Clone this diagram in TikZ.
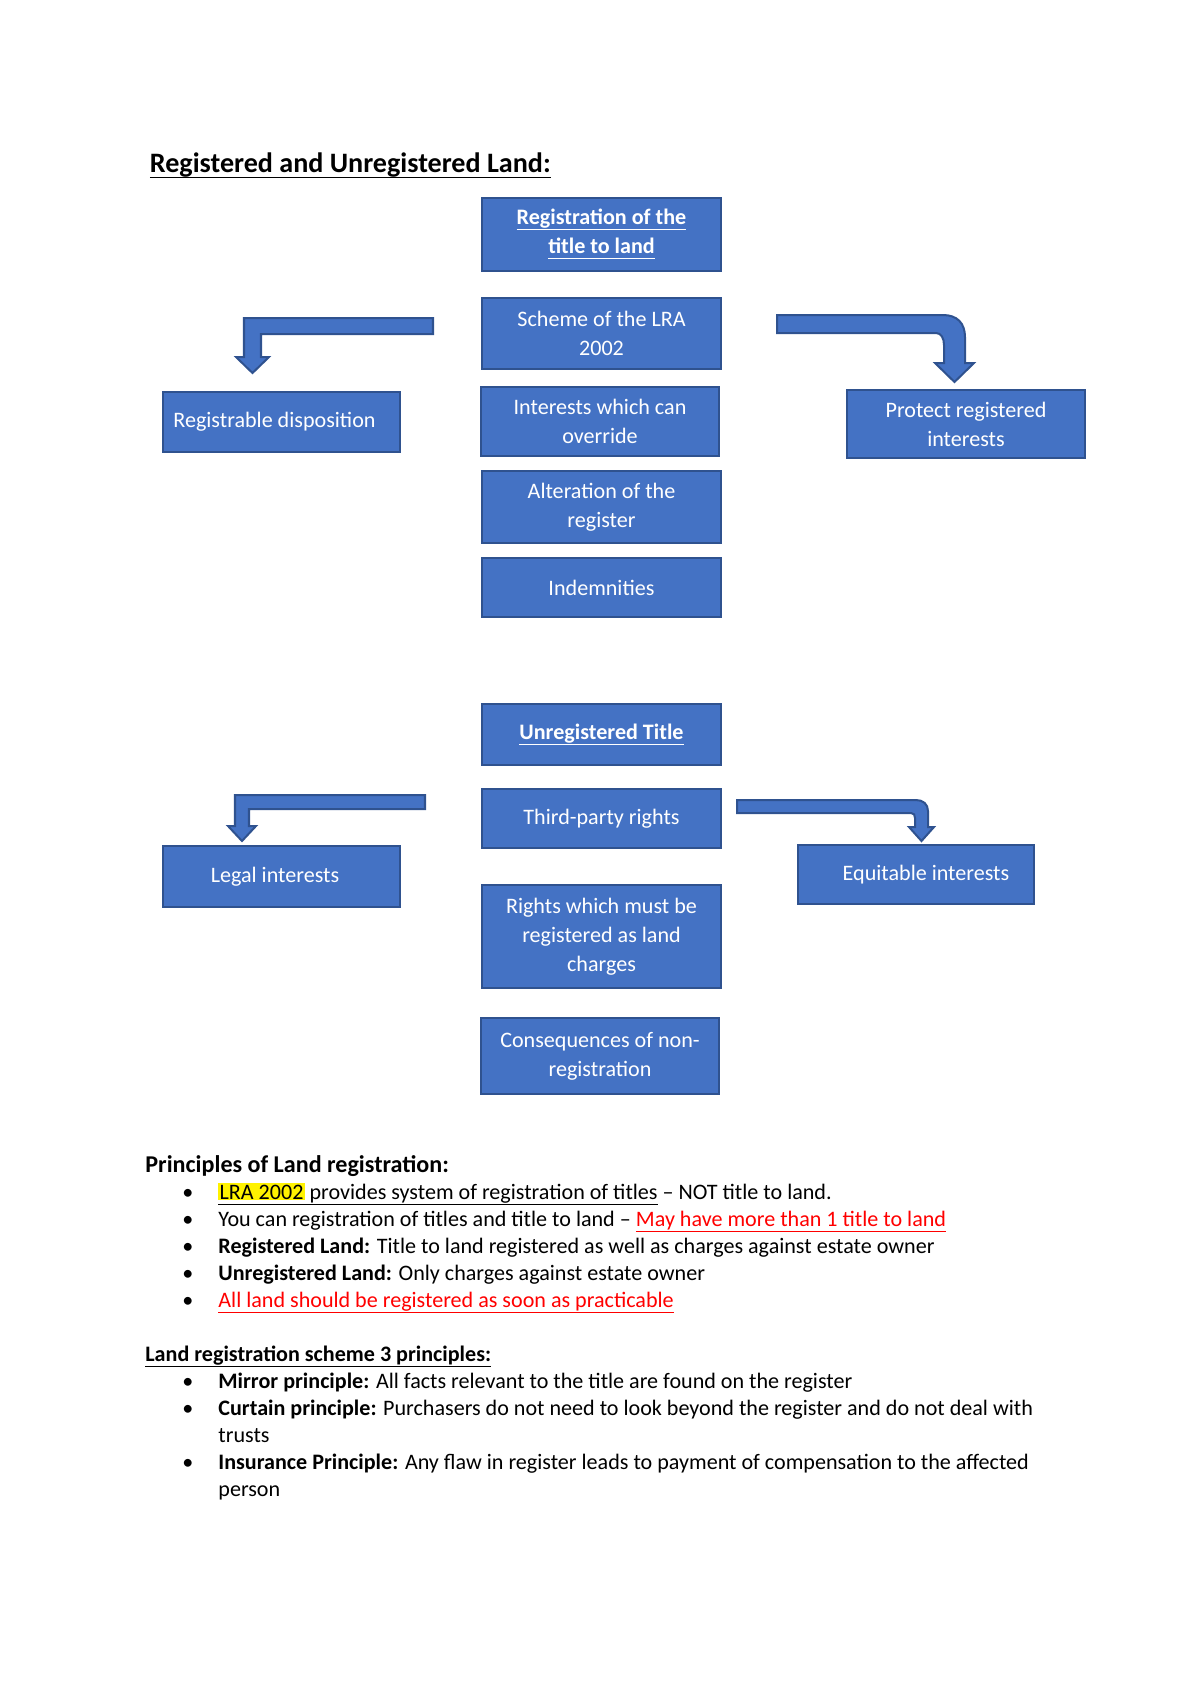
\documentclass[tikz,border=0pt]{standalone}
\usepackage{fontspec}
\setmainfont{Carlito}
\usetikzlibrary{positioning}
\definecolor{boxfill}{HTML}{4472C4}
\definecolor{boxedge}{HTML}{2F528F}
\newdimen\px
\px=0.0175cm
\newcommand\ul[1]{\underline{\raisebox{0pt}[\height][0pt]{#1}\rule[-1.2pt]{0pt}{0pt}}}
\tikzset{
  box/.style={draw=boxedge, fill=boxfill, line width=1.2pt, text=white,
    align=center, inner sep=2pt, font=\fontsize{11}{14.5}\selectfont},
  bentarrow/.style={fill=boxfill, draw=boxedge, line width=1pt, line join=miter},
  body/.style={anchor=base west, inner sep=0pt, font=\fontsize{11}{13.4}\selectfont}
}

\begin{document}
\begin{tikzpicture}[x=0.0175cm, y=-0.0175cm]
  \useasboundingbox (0,0) rectangle (1200,1698);
  \node[body, font=\fontsize{14}{16}\selectfont\bfseries] (title) at (149.5,172)
  {\ul{Registered and Unregistered Land:}};
  % registered title
  \node[box, minimum width=239*\px, minimum height=73*\px] (regtitle) at (601.5,234.5)
  {\bfseries\ul{Registration of the}\\ \bfseries\ul{title to land}};
  \node[box, minimum width=239*\px, minimum height=71*\px] (scheme) at (601.5,333.5)
  {Scheme of the LRA\\ 2002};
  \node[box, minimum width=238*\px, minimum height=69*\px] (override) at (600,421.5)
  {Interests which can\\ override};
  \node[box, minimum width=239*\px, minimum height=72*\px] (alter) at (601.5,507)
  {Alteration of the\\ register};
  \node[box, minimum width=239*\px, minimum height=59*\px] (indem) at (601.5,587.5)
  {Indemnities};
  \node[box, minimum width=237*\px, minimum height=60*\px] (regdisp) at (281.5,422)
  {Registrable disposition\hspace*{14\px}};
  \node[box, minimum width=238*\px, minimum height=68*\px] (protect) at (966,424)
  {Protect registered\\ interests};
  \draw[bentarrow] (433,318) -- (244,318) -- (244,357) -- (236,357) -- (252.5,373)
  -- (269,357) -- (261,357) -- (261,334) -- (433,334) -- cycle;
  \draw[bentarrow] (777,315) -- (943,315) .. controls (957,315) and (965,323) .. (965,337)
  -- (965,363) -- (974,363) -- (954.5,382) -- (935,363) -- (944,363) -- (944,345)
  .. controls (944,338) and (941,333) .. (936,333) -- (777,333) -- cycle;
  % unregistered title
  \node[box, minimum width=239*\px, minimum height=61*\px] (unreg) at (601.5,734.5)
  {\bfseries\ul{Unregistered Title}};
  \node[box, minimum width=239*\px, minimum height=59*\px] (third) at (601.5,818.5)
  {Third-party rights};
  \node[box, minimum width=239*\px, minimum height=103*\px] (charges) at (601.5,936.5)
  {Rights which must be\\ registered as land\\ charges};
  \node[box, minimum width=238*\px, minimum height=76*\px] (nonreg) at (600,1056)
  {Consequences of non-\\ registration};
  \node[box, minimum width=237*\px, minimum height=61*\px] (legal) at (281.5,876.5)
  {Legal interests\hspace*{13\px}};
  \node[box, minimum width=236*\px, minimum height=59*\px] (equit) at (916,874.5)
  {\hspace*{20\px}Equitable interests};
  \draw[bentarrow] (425,795) -- (235,795) -- (235,826) -- (228,826) -- (242,841)
  -- (256,826) -- (249,826) -- (249,809) -- (425,809) -- cycle;
  \draw[bentarrow] (737,800) -- (916,800) .. controls (923,800) and (928,804) .. (928,811)
  -- (928,827) -- (934,827) -- (921.5,841) -- (909,827) -- (915,827) -- (915,818)
  .. controls (915,815) and (914,813) .. (911,813) -- (737,813) -- cycle;
  % principles
  \node[body, font=\fontsize{12}{14}\selectfont\bfseries] (princ) at (145,1172)
  {Principles of Land registration:};
  \foreach \y in {1199,1226,1253,1280,1307,1388,1415,1469}
    \node[body] (dot\y) at (182,\y) {\textbullet};
  \node[body] (lra) at (218,1199)
  {\ul{\setlength\fboxsep{0.6pt}\colorbox{yellow}{LRA 2002} provides system of registration of titles} -- NOT title to land.};
  \node[body] (youcan) at (218,1226)
  {You can registration of titles and title to land -- \textcolor{red}{\ul{May have more than 1 title to land}}};
  \node[body] (regland) at (218,1253)
  {\textbf{Registered Land:} Title to land registered as well as charges against estate owner};
  \node[body] (unregland) at (218,1280)
  {\textbf{Unregistered Land:} Only charges against estate owner};
  \node[body] (asap) at (218,1307)
  {\textcolor{red}{\ul{All land should be registered as soon as practicable}}};
  \node[body, font=\fontsize{11}{13.4}\selectfont\bfseries] (scheme3) at (145,1361)
  {\ul{Land registration scheme 3 principles:}};
  \node[body] (mirror) at (218,1388)
  {\textbf{Mirror principle:} All facts relevant to the title are found on the register};
  \node[body] (curtain) at (218,1415)
  {\textbf{Curtain principle:} Purchasers do not need to look beyond the register and do not deal with};
  \node[body] (trusts) at (218,1442) {trusts};
  \node[body] (insur) at (218,1469)
  {\textbf{Insurance Principle:} Any flaw in register leads to payment of compensation to the affected};
  \node[body] (person) at (218,1496) {person};
\end{tikzpicture}
\end{document}
